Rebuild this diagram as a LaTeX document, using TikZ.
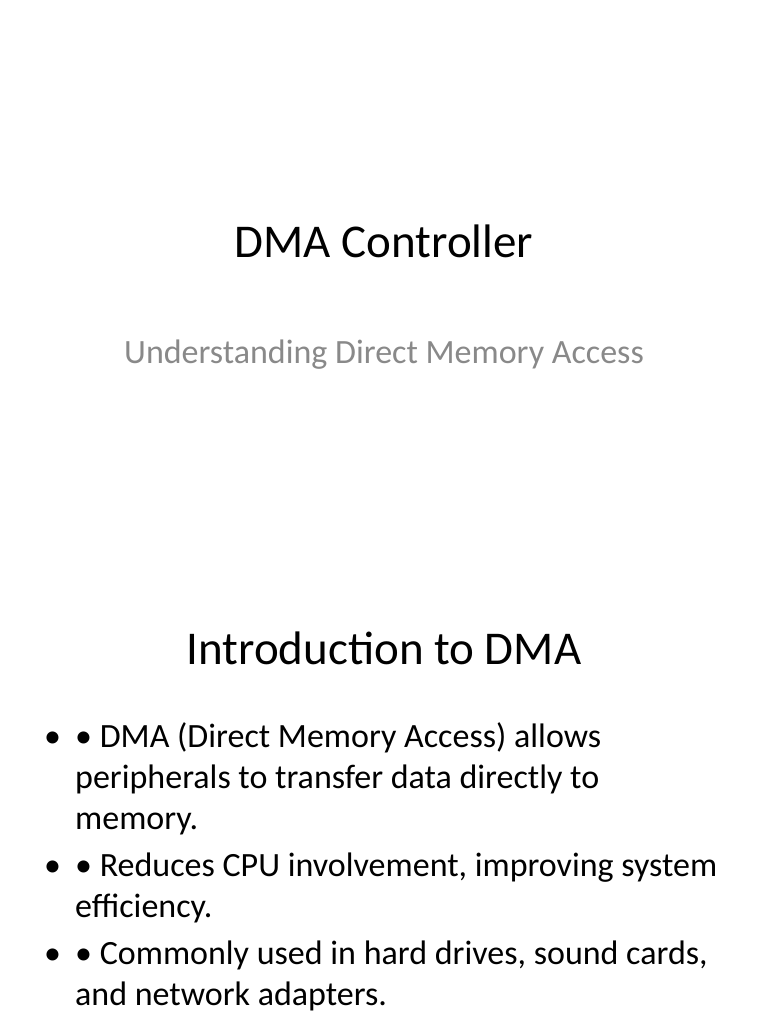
\documentclass[tikz,border=0pt]{standalone}
\usepackage{fontspec}
\setmainfont{Carlito}
\definecolor{subgray}{RGB}{137,137,137}
\begin{document}
\begin{tikzpicture}[x=1pt,y=-1pt,
  title/.style={anchor=base,font=\fontsize{47}{56}\selectfont},
  body/.style={anchor=base west,font=\fontsize{34}{41}\selectfont,inner sep=0}]
\useasboundingbox[fill=white] (0,0) rectangle (768,1024);
\node[title] (t) at (384,257) {DMA Controller};
\node[anchor=base,font=\fontsize{34}{40}\selectfont,text=subgray] (s) at (384,363) {Understanding Direct Memory Access};
\node[title] (i) at (384,664) {Introduction to DMA};
\node[body] (b1) at (44,747) {•};
\node[body] (t1a) at (75,747) {• DMA (Direct Memory Access) allows};
\node[body] (t1b) at (75,788) {peripherals to transfer data directly to};
\node[body] (t1c) at (75,829) {memory.};
\node[body] (b2) at (44,876) {•};
\node[body] (t2a) at (75,876) {• Reduces CPU involvement, improving system};
\node[body] (t2b) at (75,917) {efficiency.};
\node[body] (b3) at (44,964) {•};
\node[body] (t3a) at (75,964) {• Commonly used in hard drives, sound cards,};
\node[body] (t3b) at (75,1005) {and network adapters.};
\end{tikzpicture}
\end{document}
